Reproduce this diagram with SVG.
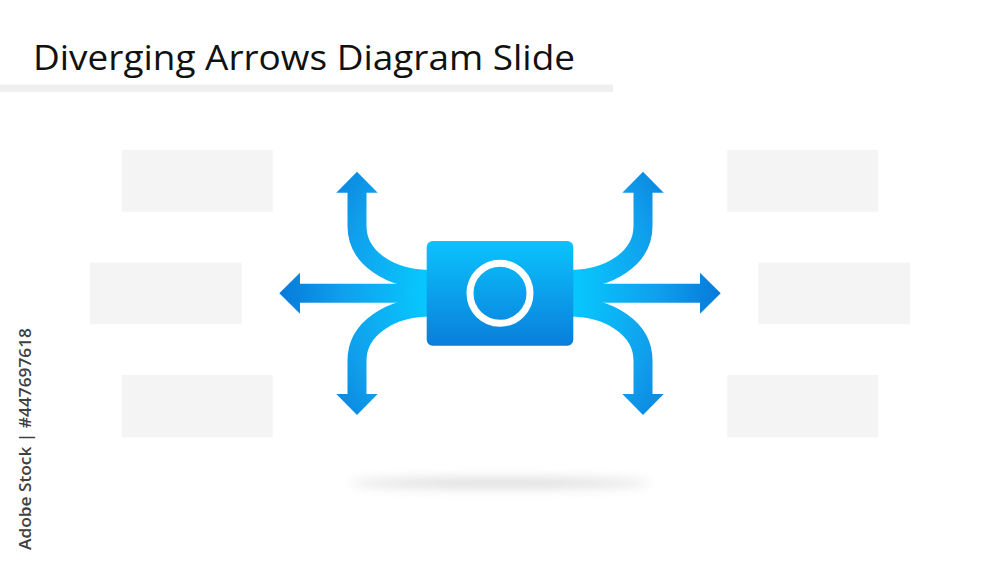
<svg xmlns="http://www.w3.org/2000/svg" width="1000" height="563" viewBox="0 0 1000 563">
  <defs>
    <radialGradient id="arrowGrad" gradientUnits="userSpaceOnUse" cx="500" cy="293.3" r="225">
      <stop offset="0.35" stop-color="#08c6fd"/>
      <stop offset="0.7" stop-color="#109fec"/>
      <stop offset="1" stop-color="#0678d8"/>
    </radialGradient>
    <linearGradient id="boxGrad" x1="0" y1="0" x2="0" y2="1">
      <stop offset="0" stop-color="#0bc3fd"/>
      <stop offset="1" stop-color="#0a7edb"/>
    </linearGradient>
    <filter id="blur" x="-20%" y="-300%" width="140%" height="700%">
      <feGaussianBlur stdDeviation="6"/>
    </filter>
  </defs>
  <style>
    .ph { fill: #f4f4f4; }
    .shaft { fill: none; stroke: url(#arrowGrad); stroke-width: 19; }
    .head { fill: url(#arrowGrad); }
    .title { font-family: "Open Sans", "Liberation Sans", sans-serif; font-size: 35px; fill: #111111; }
    .side { font-family: "Open Sans", "Liberation Sans", sans-serif; font-size: 17px; font-weight: 600; fill: #404040; }
  </style>

  <rect x="0" y="0" width="1000" height="563" fill="#ffffff"/>

  <g id="title">
    <text class="title" x="33" y="69.5" textLength="542" lengthAdjust="spacingAndGlyphs">Diverging Arrows Diagram Slide</text>
    <rect x="0" y="84.5" width="613" height="7.5" fill="#efefef"/>
  </g>

  <g id="shadow">
    <ellipse cx="500" cy="483" rx="150" ry="4" fill="#d2d2d2" filter="url(#blur)"/>
  </g>

  <g id="connectors">
    <path class="shaft" d="M299,293.3 L430,293.3"/>
    <path class="shaft" d="M570,293.3 L701,293.3"/>
    <path class="shaft" d="M357,192 L357,226 C357,258 390,279.5 432,279.5"/>
    <path class="shaft" d="M357,395 L357,360.6 C357,328.6 390,307.1 432,307.1"/>
    <path class="shaft" d="M643,192 L643,226 C643,258 610,279.5 568,279.5"/>
    <path class="shaft" d="M643,395 L643,360.6 C643,328.6 610,307.1 568,307.1"/>
    <polygon class="head" points="279.3,293.3 300,272.8 300,313.8"/>
    <polygon class="head" points="720.7,293.3 700,272.8 700,313.8"/>
    <polygon class="head" points="357,171.7 336.3,192.7 377.7,192.7"/>
    <polygon class="head" points="357,415 336.3,394 377.7,394"/>
    <polygon class="head" points="643,171.7 622.3,192.7 663.7,192.7"/>
    <polygon class="head" points="643,415 622.3,394 663.7,394"/>
  </g>

  <g id="center-node">
    <rect x="426.7" y="241" width="146.6" height="104.7" rx="6" fill="url(#boxGrad)"/>
    <circle cx="500" cy="293.3" r="30" fill="none" stroke="#ffffff" stroke-width="7"/>
  </g>

  <g id="box-left-top"><rect class="ph" x="121.7" y="150" width="151" height="61.7"/></g>
  <g id="box-left-middle"><rect class="ph" x="90" y="262.7" width="151.7" height="61.6"/></g>
  <g id="box-left-bottom"><rect class="ph" x="121.7" y="375" width="151" height="62.3"/></g>
  <g id="box-right-top"><rect class="ph" x="727.3" y="150" width="151" height="61.7"/></g>
  <g id="box-right-middle"><rect class="ph" x="758.3" y="262.7" width="151.7" height="61.6"/></g>
  <g id="box-right-bottom"><rect class="ph" x="727.3" y="375" width="151" height="62.3"/></g>

  <g id="side-credit">
    <text class="side" transform="translate(30.5,550) rotate(-90)" textLength="222" lengthAdjust="spacingAndGlyphs">Adobe Stock | #447697618</text>
  </g>
</svg>
